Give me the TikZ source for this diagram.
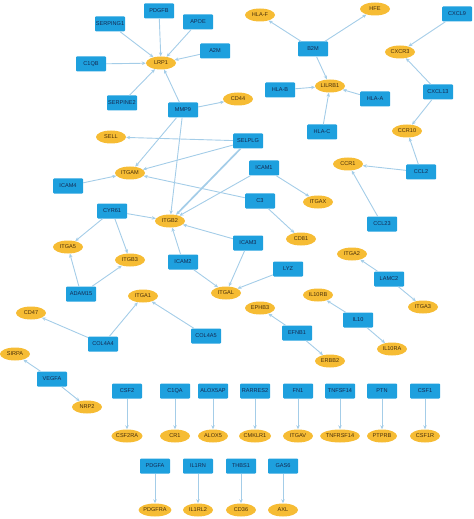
\documentclass[tikz,border=0pt]{standalone}
\usepackage{fontspec}
\setmainfont{Liberation Sans}
\usetikzlibrary{shapes.geometric,arrows.meta}
\definecolor{boxblue}{RGB}{30,160,222}
\definecolor{ellorange}{RGB}{246,188,52}
\definecolor{edgeblue}{RGB}{164,205,232}
\definecolor{boxtext}{RGB}{20,40,80}
\definecolor{elltext}{RGB}{70,45,10}
\tikzset{
  gbox/.style={rectangle, fill=boxblue, minimum width=30bp, minimum height=15bp, inner sep=0pt, rounded corners=1bp, text=boxtext, font=\fontsize{5.6}{6}\selectfont},
  gell/.style={ellipse, fill=ellorange, minimum width=30bp, minimum height=13bp, inner sep=0pt, text=elltext, font=\fontsize{5.6}{6}\selectfont},
  arr/.style={draw=edgeblue, line width=0.9bp, -{Stealth[length=4bp,width=3.5bp]}},
  thickarr/.style={arr, line width=1.7bp}
}
\begin{document}
\begin{tikzpicture}[x=1bp,y=-1bp]
\useasboundingbox (0,0) rectangle (474,519);
% nodes
\node[gbox] (SERPING1) at (110,24) {SERPING1};
\node[gbox] (PDGFB) at (159,11) {PDGFB};
\node[gbox] (APOE) at (198,22) {APOE};
\node[gbox] (A2M) at (215,51) {A2M};
\node[gell] (LRP1) at (161,63) {LRP1};
\node[gbox] (C1QB) at (91,64) {C1QB};
\node[gbox] (SERPINE2) at (122,103) {SERPINE2};
\node[gbox] (MMP9) at (183,110) {MMP9};
\node[gell] (CD44) at (238,99) {CD44};
\node[gell] (HLAF) at (260,15) {HLA-F};
\node[gbox] (B2M) at (313,49) {B2M};
\node[gbox] (HLAB) at (280,90) {HLA-B};
\node[gell] (LILRB1) at (330,86) {LILRB1};
\node[gell] (HFE) at (375,9) {HFE};
\node[gbox] (CXCL9) at (457,14) {CXCL9};
\node[gell] (CXCR3) at (400,52) {CXCR3};
\node[gbox] (HLAA) at (375,99) {HLA-A};
\node[gbox] (CXCL13) at (438,92) {CXCL13};
\node[gbox] (HLAC) at (322,132) {HLA-C};
\node[gell] (CCR10) at (407,131) {CCR10};
\node[gbox] (CCL2) at (421,172) {CCL2};
\node[gell] (CCR1) at (348,164) {CCR1};
\node[gbox] (CCL23) at (382,224) {CCL23};
\node[gell] (ITGAX) at (318,202) {ITGAX};
\node[gell] (CD81) at (301,239) {CD81};
\node[gell] (ITGA2) at (352,254) {ITGA2};
\node[gbox] (LAMC2) at (389,279) {LAMC2};
\node[gell] (ITGA3) at (423,307) {ITGA3};
\node[gell] (IL10RB) at (318,295) {IL10RB};
\node[gbox] (IL10) at (358,320) {IL10};
\node[gell] (IL10RA) at (392,349) {IL10RA};
\node[gell] (ERBB2) at (330,361) {ERBB2};
\node[gbox] (EFNB1) at (297,333) {EFNB1};
\node[gell] (EPHB3) at (260,308) {EPHB3};
\node[gbox] (LYZ) at (288,269) {LYZ};
\node[gell] (ITGAL) at (226,293) {ITGAL};
\node[gbox] (ICAM2) at (183,262) {ICAM2};
\node[gbox] (ICAM3) at (248,243) {ICAM3};
\node[gbox] (COL4A5) at (206,336) {COL4A5};
\node[gell] (ITGA1) at (143,296) {ITGA1};
\node[gbox] (COL4A4) at (103,344) {COL4A4};
\node[gell] (CD47) at (31,313) {CD47};
\node[gell] (SIRPA) at (15,354) {SIRPA};
\node[gbox] (VEGFA) at (52,379) {VEGFA};
\node[gell] (NRP2) at (87,407) {NRP2};
\node[gbox] (ADAM15) at (81,294) {ADAM15};
\node[gell] (ITGB3) at (130,260) {ITGB3};
\node[gell] (ITGA5) at (68,247) {ITGA5};
\node[gbox] (CYR61) at (112,211) {CYR61};
\node[gbox] (ICAM4) at (68,186) {ICAM4};
\node[gell] (ITGAM) at (130,173) {ITGAM};
\node[gell] (SELL) at (111,137) {SELL};
\node[gbox] (SELPLG) at (248,141) {SELPLG};
\node[gbox] (ICAM1) at (264,168) {ICAM1};
\node[gbox] (C3) at (260,201) {C3};
\node[gell] (ITGB2) at (170,221) {ITGB2};
% bottom pairs
\node[gbox] (CSF2) at (127,391) {CSF2};
\node[gell] (CSF2RA) at (127,436) {CSF2RA};
\node[gbox] (C1QA) at (175,391) {C1QA};
\node[gell] (CR1) at (175,436) {CR1};
\node[gbox] (ALOX5AP) at (213,391) {ALOX5AP};
\node[gell] (ALOX5) at (213,436) {ALOX5};
\node[gbox] (RARRES2) at (255,391) {RARRES2};
\node[gell] (CMKLR1) at (255,436) {CMKLR1};
\node[gbox] (FN1) at (298,391) {FN1};
\node[gell] (ITGAV) at (298,436) {ITGAV};
\node[gbox] (TNFSF14) at (340,391) {TNFSF14};
\node[gell,minimum width=33bp] (TNFRSF14) at (340,436) {TNFRSF14};
\node[gbox] (PTN) at (382,391) {PTN};
\node[gell] (PTPRB) at (382,436) {PTPRB};
\node[gbox] (CSF1) at (425,391) {CSF1};
\node[gell] (CSF1R) at (425,436) {CSF1R};
\node[gbox] (PDGFA) at (155,466) {PDGFA};
\node[gell] (PDGFRA) at (155,510) {PDGFRA};
\node[gbox] (IL1RN) at (198,466) {IL1RN};
\node[gell] (IL1RL2) at (198,510) {IL1RL2};
\node[gbox] (THBS1) at (241,466) {THBS1};
\node[gell] (CD36) at (241,510) {CD36};
\node[gbox] (GAS6) at (283,466) {GAS6};
\node[gell] (AXL) at (283,510) {AXL};
% edges
\foreach \s in {SERPING1,PDGFB,APOE,A2M,C1QB,SERPINE2,MMP9} \draw[arr] (\s) -- (LRP1);
\draw[arr] (MMP9) -- (CD44);
\draw[arr] (MMP9) -- (ITGB2);
\draw[arr] (MMP9) -- (ITGAM);
\draw[arr] (B2M) -- (HLAF);
\draw[arr] (B2M) -- (HFE);
\foreach \s in {B2M,HLAB,HLAA,HLAC} \draw[arr] (\s) -- (LILRB1);
\draw[arr] (CXCL9) -- (CXCR3);
\draw[arr] (CXCL13) -- (CXCR3);
\draw[arr] (CXCL13) -- (CCR10);
\draw[arr] (CCL2) -- (CCR10);
\draw[arr] (CCL2) -- (CCR1);
\draw[arr] (CCL23) -- (CCR1);
\draw[arr] (SELPLG) -- (SELL);
\draw[arr] (SELPLG) -- (ITGAM);
\draw[thickarr] (SELPLG) -- (ITGB2);
\draw[arr] (C3) -- (ITGAM);
\draw[arr] (C3) -- (CD81);
\draw[arr] (ICAM4) -- (ITGAM);
\draw[arr] (CYR61) -- (ITGB2);
\draw[arr] (CYR61) -- (ITGA5);
\draw[arr] (CYR61) -- (ITGB3);
\draw[arr] (ICAM1) -- (ITGAX);
\draw[arr] (ICAM1) -- (ITGB2);
\draw[arr] (ICAM3) -- (ITGB2);
\draw[arr] (ICAM3) -- (ITGAL);
\draw[arr] (ICAM2) -- (ITGAL);
\draw[arr] (ICAM2) -- (ITGB2);
\draw[arr] (LYZ) -- (ITGAL);
\draw[arr] (ADAM15) -- (ITGA5);
\draw[arr] (ADAM15) -- (ITGB3);
\draw[arr] (COL4A4) -- (CD47);
\draw[arr] (COL4A4) -- (ITGA1);
\draw[arr] (COL4A5) -- (ITGA1);
\draw[arr] (VEGFA) -- (SIRPA);
\draw[arr] (VEGFA) -- (NRP2);
\draw[arr] (EFNB1) -- (EPHB3);
\draw[arr] (EFNB1) -- (ERBB2);
\draw[arr] (IL10) -- (IL10RB);
\draw[arr] (IL10) -- (IL10RA);
\draw[arr] (LAMC2) -- (ITGA2);
\draw[arr] (LAMC2) -- (ITGA3);
\draw[arr] (CSF2) -- (CSF2RA);
\draw[arr] (C1QA) -- (CR1);
\draw[arr] (ALOX5AP) -- (ALOX5);
\draw[arr] (RARRES2) -- (CMKLR1);
\draw[arr] (FN1) -- (ITGAV);
\draw[arr] (TNFSF14) -- (TNFRSF14);
\draw[arr] (PTN) -- (PTPRB);
\draw[arr] (CSF1) -- (CSF1R);
\draw[arr] (PDGFA) -- (PDGFRA);
\draw[arr] (IL1RN) -- (IL1RL2);
\draw[arr] (THBS1) -- (CD36);
\draw[arr] (GAS6) -- (AXL);
\end{tikzpicture}
\end{document}
